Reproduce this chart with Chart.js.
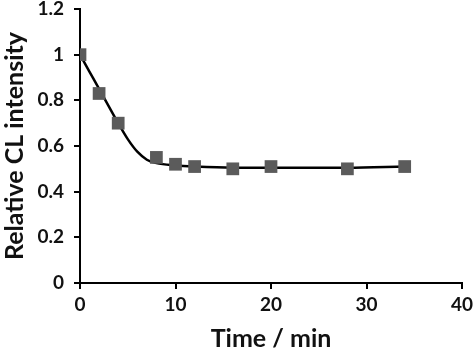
<!DOCTYPE html>
<html><head><meta charset="utf-8">
<script src="https://cdn.jsdelivr.net/npm/chart.js@4"></script>
<style>html,body{margin:0;padding:0;background:#fff}#w{width:474px;height:358px}</style>
</head><body><div id="w"><canvas id="c"></canvas></div>
<script>
const timeMin = [0, 2, 4, 8, 10, 12, 16, 20, 28, 34];
const relIntensity = [1.0, 0.83, 0.70, 0.55, 0.52, 0.51, 0.50, 0.51, 0.50, 0.51];
const fitTime = [0, 1, 2, 3, 4, 5, 6, 7, 8, 10, 12, 16, 20, 28, 34];
const fitValue = [1.0, 0.925, 0.85, 0.775, 0.70, 0.63, 0.575, 0.54, 0.525, 0.515, 0.51, 0.505, 0.505, 0.505, 0.51];
const xTicks = [0, 10, 20, 30, 40];
const yTicks = ['0', '0.2', '0.4', '0.6', '0.8', '1', '1.2'];

const FONT = 'Lato';
new Chart(document.getElementById('c'), {
  type: 'scatter',
  data: {
    datasets: [
      {
        data: fitTime.map((t, i) => ({x: t, y: fitValue[i]})),
        showLine: true, borderColor: '#000', borderWidth: 2.5,
        pointRadius: 0, tension: 0.4, cubicInterpolationMode: 'monotone', order: 1
      },
      {
        data: timeMin.map((t, i) => ({x: t, y: relIntensity[i]})),
        pointStyle: 'rect', pointRadius: 9, backgroundColor: '#5b5b5b',
        borderColor: '#5b5b5b', borderWidth: 0, order: 0
      }
    ]
  },
  options: {
    responsive: true, maintainAspectRatio: false, animation: false,
    layout: {padding: {top: 6, right: 12, left: 0, bottom: 0}},
    plugins: {legend: {display: false}, tooltip: {enabled: false}},
    scales: {
      x: {
        type: 'linear', min: 0, max: 40,
        afterFit: s => { s.height = 75; s.paddingRight = 0; s.paddingLeft = 0; },
        afterBuildTicks: s => { s.ticks = xTicks.map(v => ({value: v})); },
        grid: {drawOnChartArea: false, tickLength: 6, color: '#000', lineWidth: 2},
        border: {color: '#000', width: 2},
        ticks: {color: '#111', font: {family: FONT, size: 19, weight: 'bold'}, padding: 4, maxRotation: 0},
        title: {display: true, text: 'Time / min', color: '#111', font: {family: FONT, size: 25, weight: 'bold'}, padding: {top: 6}}
      },
      y: {
        min: 0, max: 1.2,
        afterFit: s => { s.width = 80; s.paddingTop = 0; s.paddingBottom = 0; },
        afterBuildTicks: s => { s.ticks = yTicks.map(v => ({value: parseFloat(v)})); },
        grid: {drawOnChartArea: false, tickLength: 6, color: '#000', lineWidth: 2},
        border: {color: '#000', width: 2},
        ticks: {color: '#111', font: {family: FONT, size: 19, weight: 'bold'}, padding: 10,
          callback: (v) => yTicks.find(t => Math.abs(parseFloat(t) - v) < 1e-6)},
        title: {display: true, text: 'Relative CL intensity', color: '#111', font: {family: FONT, size: 25, weight: 'bold'}, padding: 0}
      }
    }
  }
});
</script></body></html>
